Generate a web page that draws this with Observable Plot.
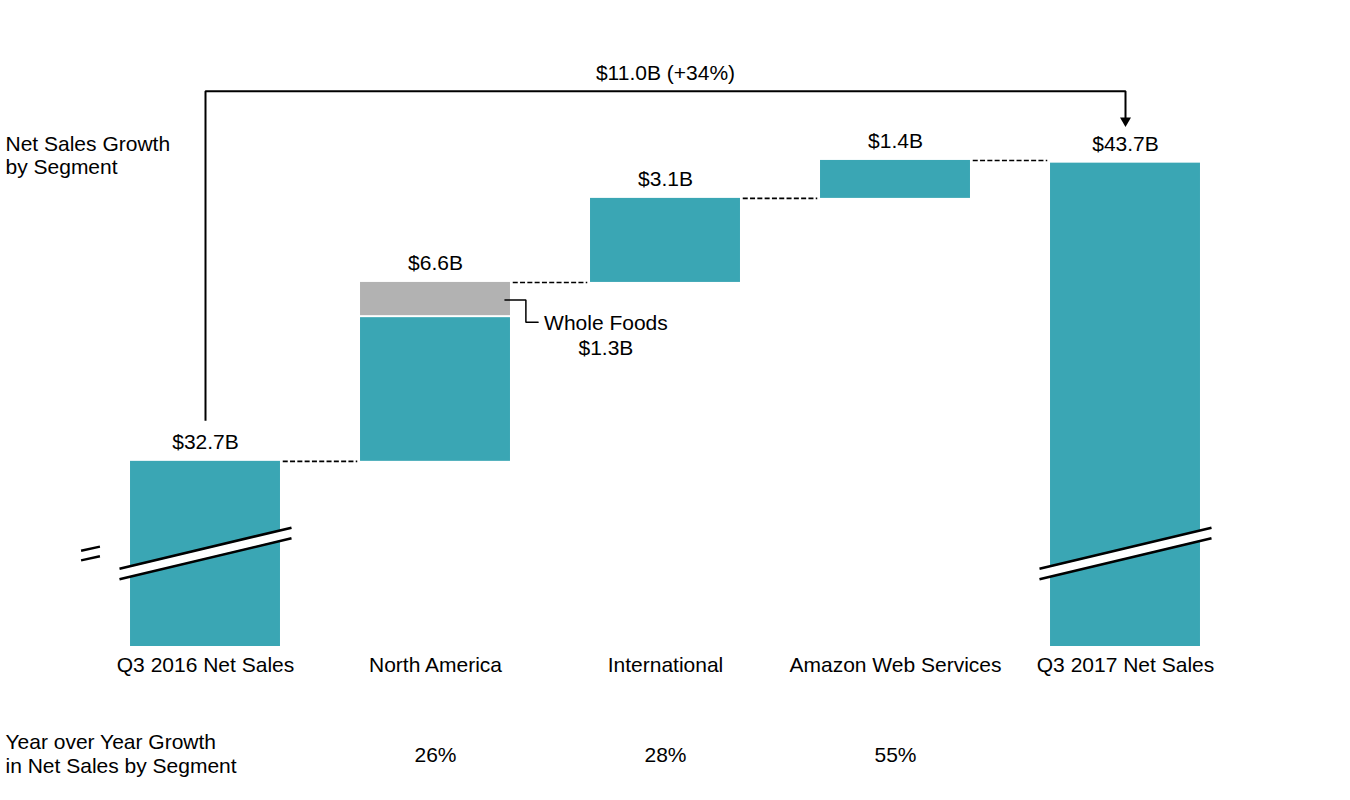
<!DOCTYPE html>
<html><head><meta charset="utf-8">
<script src="https://cdn.jsdelivr.net/npm/d3@7"></script>
<script src="https://cdn.jsdelivr.net/npm/@observablehq/plot@0.6"></script>
<style>body{margin:0;background:#fff}</style>
</head><body><div id="chart"></div>
<script>
// ---- data ----
const categories = ["Q3 2016 Net Sales", "North America", "International", "Amazon Web Services", "Q3 2017 Net Sales"];
const changes = [32.7, 6.6, 3.1, 1.4, 43.7];           // $B
const kinds = ["total", "delta", "delta", "delta", "total"];
const valueLabels = ["$32.7B", "$6.6B", "$3.1B", "$1.4B", "$43.7B"];
const yoyGrowth = ["", "26%", "28%", "55%", ""];
const wholeFoods = 1.3;                                  // $B inside North America
const wholeFoodsLabel = "Whole Foods\n$1.3B";
const totalChangeLabel = "$11.0B (+34%)";
const leftTitle = "Net Sales Growth\nby Segment";
const bottomTitle = "Year over Year Growth\nin Net Sales by Segment";
const axisBreak = 29.3;   // value where the y axis is cut
const axisFloor = 25.87;  // value shown at the bottom of the cut bars

// ---- derived ----
const TEAL = "#3AA6B4", GRAY = "#B2B2B2";
const hw = 0.326; // half bar width in category units
let run = 0;
const bars = categories.map((c, i) => {
  const isTotal = kinds[i] === "total";
  const start = isTotal ? 0 : run;
  const end = isTotal ? changes[i] : run + changes[i];
  run = end;
  return {i, c, start, end, label: valueLabels[i]};
});
const tealSegs = bars.map(b => ({i: b.i, start: b.start, end: b.c === "North America" ? b.end - wholeFoods : b.end}));
const graySegs = bars.filter(b => b.c === "North America").map(b => ({i: b.i, start: b.end - wholeFoods, end: b.end}));
const connectors = bars.slice(0, -1).map(b => ({i: b.i, level: b.end}));
const breaks = bars.filter(b => kinds[b.i] === "total").map(b => ({i: b.i}));
const first = bars[0], last = bars[bars.length - 1];
const bracketLevel = last.end + 2.65;
const arrowTip = last.end + 1.33;
const bracket = [
  {x: first.i, y: first.end + 1.5},
  {x: first.i, y: bracketLevel},
  {x: last.i, y: bracketLevel},
  {x: last.i, y: arrowTip + 0.3}
];
const na = bars[1];
const wfMid = na.end - wholeFoods / 2;
const wfLow = wfMid - 0.82;
const callout = [
  {x: na.i + 0.302, y: wfMid},
  {x: na.i + 0.393, y: wfMid},
  {x: na.i + 0.393, y: wfLow},
  {x: na.i + 0.446, y: wfLow}
];
const yoy = yoyGrowth.map((t, i) => ({i, t})).filter(d => d.t);

const breakLine = (dy, stroke, strokeWidth) => Plot.link(breaks, {
  x1: d => d.i - 0.374, x2: d => d.i + 0.374,
  y1: () => axisBreak - 0.757, y2: () => axisBreak + 0.757,
  stroke, strokeWidth, strokeLinecap: "butt", dy
});
const axisBreakSymbol = (dy) => Plot.link([0], {
  x1: () => -0.541, x2: () => -0.459,
  y1: () => axisBreak - 0.075, y2: () => axisBreak + 0.075,
  stroke: "#000", strokeWidth: 2.4, strokeLinecap: "butt", dy
});

const font = "'Liberation Sans', Arial, Helvetica, sans-serif";
const chart = Plot.plot({
  width: 1350, height: 800,
  marginLeft: 90, marginRight: 110, marginTop: 0, marginBottom: 154,
  x: {domain: [-0.5, 4.5], axis: null},
  y: {domain: [axisFloor, 49.7], clamp: true, axis: null},
  style: {fontFamily: font, fontSize: "21px", color: "#000", background: "#fff"},
  marks: [
    Plot.rectY(tealSegs, {x1: d => d.i - hw, x2: d => d.i + hw, y1: "start", y2: "end", fill: TEAL}),
    Plot.rectY(graySegs, {x1: d => d.i - hw, x2: d => d.i + hw, y1: "start", y2: "end", fill: GRAY, insetBottom: 2}),
    Plot.ruleY(connectors, {y: "level", x1: d => d.i + hw + 0.012, x2: d => d.i + 1 - hw - 0.012, stroke: "#000", strokeWidth: 1.6, strokeDasharray: "5,2.3"}),
    // axis break marks
    breakLine(0, "white", 9),
    breakLine(-5.3, "#000", 2.6),
    breakLine(5.3, "#000", 2.6),
    axisBreakSymbol(-4.8),
    axisBreakSymbol(4.8),
    // bracket with arrow
    Plot.line(bracket, {x: "x", y: "y", stroke: "#000", strokeWidth: 2, curve: "linear", strokeLinejoin: "miter", strokeLinecap: "butt"}),
    Plot.dot([last], {x: "i", y: () => arrowTip, symbol: "triangle2", r: 5.25, rotate: 180, fill: "#000", stroke: "none", dy: -6.35}),
    Plot.text([totalChangeLabel], {x: () => 2, y: () => bracketLevel, text: d => d, dy: -18, lineAnchor: "middle", fontSize: 21, fill: "#000"}),
    // Whole Foods callout
    Plot.line(callout, {x: "x", y: "y", stroke: "#000", strokeWidth: 1.5, curve: "linear", strokeLinejoin: "miter"}),
    Plot.text([wholeFoodsLabel], {x: () => na.i + 0.741, y: () => wfLow, text: d => d, lineAnchor: "middle", dy: 12.5, lineHeight: 1.2, fontSize: 21, fill: "#000"}),
    // value labels
    Plot.text(bars, {x: "i", y: "end", text: "label", dy: -19, lineAnchor: "middle", fontSize: 21, fill: "#000"}),
    // category axis
    Plot.axisX(d3.range(categories.length), {tickSize: 0, tickPadding: 11, tickFormat: i => categories[i], fontSize: 21, label: null}),
    // YoY growth row
    Plot.text(yoy, {x: "i", text: "t", frameAnchor: "bottom", dy: 109, lineAnchor: "middle", fontSize: 21, fill: "#000"}),
    // side titles
    Plot.text([leftTitle], {text: d => d, frameAnchor: "top-left", textAnchor: "start", lineAnchor: "middle", dx: -85, dy: 154.5, lineHeight: 1.1, fontSize: 21, fill: "#000"}),
    Plot.text([bottomTitle], {text: d => d, frameAnchor: "bottom-left", textAnchor: "start", lineAnchor: "middle", dx: -85, dy: 107, lineHeight: 1.14, fontSize: 21, fill: "#000"})
  ]
});
document.getElementById("chart").append(chart);
</script>
</body></html>
